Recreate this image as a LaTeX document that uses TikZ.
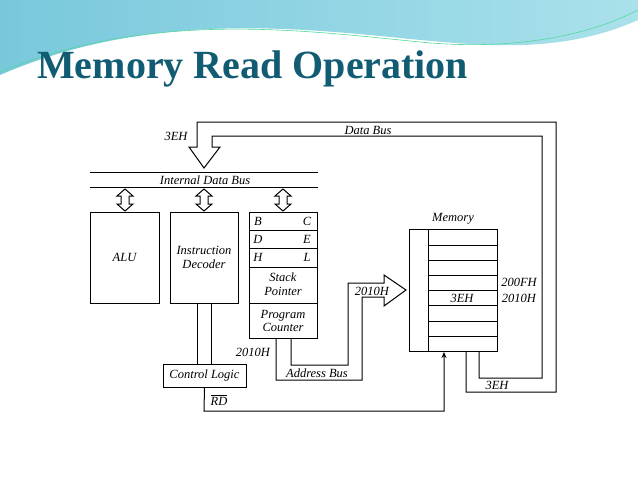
\documentclass[tikz,border=0pt]{standalone}
\usepackage{fontspec}
\setmainfont{Liberation Serif}
\usetikzlibrary{arrows.meta}
\definecolor{titlec}{RGB}{18,92,115}
\definecolor{wave1}{RGB}{120,200,220}
\definecolor{wave2}{RGB}{170,225,235}
\begin{document}
\begin{tikzpicture}[x=1pt,y=-1pt,
  ln/.style={line width=1pt,black},
  box/.style={draw,line width=1pt,inner sep=0pt},
  lab/.style={font=\itshape\fontsize{12.5}{13.5}\selectfont,inner sep=1pt},
  barrow/.style={draw,line width=1pt,fill=white}]
\useasboundingbox (0,0) rectangle (638,479);
\fill[white] (0,0) rectangle (638,479);
% background wave
\shade[left color=wave1,right color=wave2] (0,0) -- (638,0) -- (638,20) .. controls (560,55) and (480,45) .. (420,40) .. controls (300,28) and (150,10) .. (0,75) -- cycle;
\draw[wave1!70!green,line width=0.6pt] (0,72) .. controls (150,10) and (300,30) .. (420,42) .. controls (500,50) and (580,40) .. (638,10);
% title
\node[anchor=base west,inner sep=0pt,text=titlec,font=\bfseries\fontsize{40}{44}\selectfont] (title) at (37,78) {Memory Read Operation};
% internal data bus
\draw[ln] (90,172) -- (318,172);
\draw[ln] (90,187) -- (318,187);
\node[lab] (idb) at (205,180) {Internal Data Bus};
% boxes
\node[box,minimum width=69pt,minimum height=91pt] (alu) at (124.5,257.5) {};
\node[lab] at (alu) {ALU};
\node[box,minimum width=68pt,minimum height=91pt] (dec) at (204,257.5) {};
\node[lab,align=center] at (dec) {Instruction\\Decoder};
\node[box,minimum width=68pt,minimum height=126pt] (reg) at (283,275) {};
\draw[ln] (249,230) -- (317,230) (249,248) -- (317,248) (249,267) -- (317,267) (249,303) -- (317,303);
\node[lab] at (258,221) {B};\node[lab] at (307,221) {C};
\node[lab] at (258,239) {D};\node[lab] at (307,239) {E};
\node[lab] at (258,257) {H};\node[lab] at (307,257) {L};
\node[lab,align=center] at (283,284) {Stack\\Pointer};
\node[lab,align=center] at (283,321) {Program\\Counter};
% double arrows
\foreach \x in {125,204,283}{
 \draw[barrow] (\x,189) -- (\x+8,196) -- (\x+4,196) -- (\x+4,204) -- (\x+8,204) -- (\x,211) -- (\x-8,204) -- (\x-4,204) -- (\x-4,196) -- (\x-8,196) -- cycle;}
% control logic
\node[box,minimum width=83pt,minimum height=23pt] (cl) at (204.5,375.5) {};
\node[lab] at (cl) {Control Logic};
\draw[ln] (197,303) -- (197,364) (211,303) -- (211,364);
% memory
\node[box,minimum width=88pt,minimum height=122pt] (mem) at (453,290) {};
\draw[ln] (428,229) -- (428,351);
\foreach \y in {245,260,275,290,305,321,336}{\draw[ln] (428,\y) -- (497,\y);}
\node[lab] at (453,219) {Memory};
\node[lab] at (462,298) {3EH};
\node[lab] at (519,282) {200FH};
\node[lab] at (519,298) {2010H};
% RD line
\coordinate (rd1) at (204,411);
\coordinate (rd2) at (444,411);
\draw[ln,-{Stealth[length=6pt,width=5pt]}] (cl.south) -- (rd1) -- (rd2) -- (444,352);
\node[lab] at (219,400) {$\overline{\mbox{\itshape RD}}$};
% address bus
\draw[ln] (276,338) -- (276,380) -- (362,380) -- (362,297) -- (384,297) -- (384,306) -- (406,290) -- (384,275) -- (384,283) -- (348,283) -- (348,365) -- (291,365) -- (291,338);
\node[lab] at (317,373) {Address Bus};
\node[lab] at (372,291) {2010H};
\node[lab] at (253,352) {2010H};
% data bus
\draw[ln] (466,351) -- (466,392) -- (556,392) -- (556,122) -- (197,122) -- (197,147) -- (189,147) -- (204,168) -- (220,147) -- (212,147) -- (212,136) -- (542,136) -- (542,378) -- (479,378) -- (479,351);
\node[lab] at (368,130) {Data Bus};
\node[lab] at (176,136) {3EH};
\node[lab] at (497,385) {3EH};
\end{tikzpicture}
\end{document}
